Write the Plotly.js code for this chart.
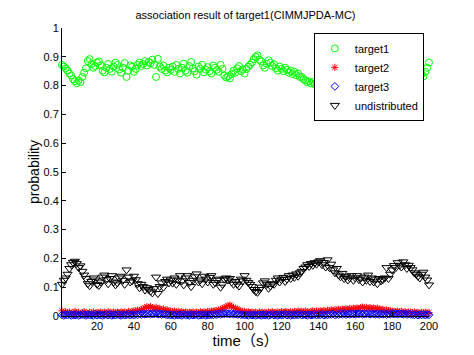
<!DOCTYPE html>
<html>
<head>
<meta charset="utf-8">
<script src="https://cdn.plot.ly/plotly-3.0.1.min.js"></script>
<style>html,body{margin:0;padding:0;background:#fff;}#chart{width:474px;height:355px;}</style>
</head>
<body>
<div id="chart"></div>
<script>
// time steps 1..200
const time = Array.from({length: 200}, (_, i) => i + 1);

const target1 = [
0.872,0.866,0.860,0.852,0.842,0.835,0.822,0.815,0.808,0.818,
0.812,0.830,0.845,0.860,0.885,0.892,0.875,0.862,0.868,0.880,
0.884,0.870,0.852,0.846,0.862,0.875,0.858,0.848,0.866,0.880,
0.872,0.856,0.845,0.862,0.878,0.830,0.852,0.870,0.865,0.848,
0.858,0.872,0.880,0.868,0.875,0.885,0.870,0.882,0.878,0.890,
0.872,0.830,0.893,0.866,0.858,0.870,0.852,0.846,0.862,0.855,
0.866,0.848,0.872,0.858,0.842,0.862,0.876,0.852,0.845,0.868,
0.882,0.860,0.850,0.838,0.866,0.858,0.872,0.846,0.855,0.864,
0.850,0.842,0.870,0.862,0.855,0.848,0.872,0.858,0.835,0.828,
0.832,0.825,0.840,0.852,0.845,0.860,0.868,0.850,0.856,0.842,
0.858,0.866,0.872,0.880,0.892,0.900,0.905,0.890,0.884,0.870,
0.862,0.876,0.888,0.880,0.868,0.874,0.860,0.852,0.866,0.858,
0.850,0.862,0.855,0.845,0.852,0.840,0.848,0.836,0.842,0.830,
0.830,0.822,0.818,0.812,0.815,0.808,0.812,0.805,0.810,0.800,
0.800,0.812,0.805,0.818,0.798,0.822,0.810,0.825,0.832,0.820,
0.835,0.842,0.830,0.846,0.838,0.852,0.842,0.835,0.848,0.840,
0.832,0.846,0.838,0.852,0.836,0.844,0.830,0.848,0.840,0.852,
0.845,0.858,0.842,0.850,0.846,0.838,0.815,0.842,0.830,0.818,
0.805,0.812,0.800,0.808,0.815,0.802,0.810,0.822,0.812,0.818,
0.826,0.832,0.838,0.846,0.852,0.840,0.832,0.848,0.862,0.880
];

const target2 = [
0.018,0.012,0.015,0.010,0.014,0.008,0.012,0.016,0.010,0.013,
0.009,0.012,0.015,0.011,0.008,0.013,0.010,0.014,0.009,0.012,
0.011,0.014,0.010,0.013,0.009,0.015,0.012,0.010,0.014,0.011,
0.013,0.010,0.015,0.012,0.014,0.011,0.016,0.013,0.015,0.018,
0.017,0.020,0.019,0.023,0.025,0.028,0.032,0.030,0.033,0.029,
0.027,0.030,0.025,0.026,0.022,0.024,0.020,0.021,0.018,0.017,
0.015,0.017,0.014,0.016,0.013,0.015,0.012,0.014,0.011,0.013,
0.012,0.014,0.010,0.013,0.011,0.015,0.012,0.014,0.013,0.016,
0.014,0.017,0.016,0.019,0.018,0.021,0.023,0.026,0.028,0.032,
0.035,0.038,0.034,0.030,0.027,0.024,0.020,0.018,0.015,0.016,
0.013,0.015,0.012,0.014,0.011,0.013,0.010,0.014,0.012,0.011,
0.013,0.010,0.014,0.012,0.015,0.011,0.013,0.014,0.012,0.015,
0.013,0.016,0.014,0.012,0.015,0.013,0.016,0.014,0.017,0.015,
0.016,0.014,0.017,0.015,0.013,0.016,0.018,0.015,0.017,0.016,
0.018,0.017,0.019,0.016,0.020,0.018,0.021,0.019,0.022,0.020,
0.023,0.021,0.024,0.022,0.025,0.023,0.026,0.024,0.027,0.025,
0.028,0.026,0.029,0.031,0.028,0.030,0.027,0.029,0.026,0.028,
0.025,0.027,0.024,0.022,0.023,0.020,0.021,0.019,0.018,0.017,
0.016,0.015,0.017,0.014,0.016,0.013,0.015,0.012,0.014,0.013,
0.012,0.014,0.011,0.013,0.010,0.012,0.011,0.013,0.010,0.012
];

const target3 = [
0.004,0.002,0.005,0.003,0.006,0.002,0.004,0.003,0.005,0.002,0.003,0.006,0.004,0.002,0.005,0.003,0.004,0.002,0.006,0.003,
0.005,0.003,0.002,0.004,0.006,0.003,0.005,0.002,0.004,0.003,0.006,0.004,0.002,0.005,0.003,0.004,0.006,0.003,0.005,0.004,
0.006,0.004,0.007,0.005,0.008,0.006,0.007,0.009,0.006,0.008,0.007,0.009,0.006,0.008,0.005,0.007,0.006,0.004,0.005,0.003,
0.004,0.002,0.005,0.003,0.004,0.002,0.006,0.003,0.004,0.002,0.005,0.003,0.004,0.006,0.002,0.004,0.003,0.005,0.002,0.004,
0.003,0.005,0.004,0.006,0.005,0.007,0.006,0.008,0.007,0.009,0.008,0.007,0.009,0.006,0.007,0.005,0.006,0.004,0.005,0.003,
0.004,0.002,0.005,0.003,0.004,0.002,0.003,0.005,0.002,0.004,0.003,0.005,0.002,0.004,0.006,0.003,0.004,0.002,0.005,0.003,
0.004,0.006,0.003,0.005,0.002,0.004,0.003,0.005,0.004,0.006,0.003,0.005,0.004,0.002,0.005,0.003,0.004,0.006,0.003,0.005,
0.004,0.006,0.003,0.005,0.004,0.006,0.005,0.007,0.004,0.006,0.005,0.007,0.006,0.008,0.005,0.007,0.006,0.008,0.007,0.006,
0.008,0.007,0.009,0.006,0.008,0.007,0.009,0.006,0.008,0.007,0.006,0.008,0.005,0.007,0.006,0.008,0.005,0.007,0.006,0.009,
0.007,0.008,0.006,0.009,0.007,0.006,0.008,0.005,0.007,0.006,0.005,0.004,0.006,0.003,0.005,0.004,0.006,0.003,0.005,0.004
];

const undistributed = [
0.110,0.124,0.132,0.145,0.165,0.178,0.186,0.190,0.182,0.168,
0.174,0.155,0.142,0.130,0.112,0.105,0.120,0.132,0.125,0.110,
0.106,0.118,0.135,0.142,0.126,0.112,0.130,0.140,0.118,0.108,
0.115,0.132,0.138,0.124,0.110,0.160,0.135,0.118,0.122,0.138,
0.126,0.112,0.098,0.110,0.102,0.090,0.098,0.092,0.086,0.080,
0.095,0.135,0.078,0.102,0.115,0.100,0.120,0.128,0.115,0.125,
0.114,0.132,0.110,0.125,0.140,0.122,0.108,0.132,0.140,0.116,
0.102,0.124,0.136,0.146,0.118,0.125,0.112,0.138,0.128,0.118,
0.134,0.140,0.110,0.116,0.124,0.128,0.100,0.110,0.128,0.132,
0.125,0.130,0.118,0.110,0.120,0.110,0.104,0.128,0.122,0.140,
0.124,0.116,0.110,0.102,0.092,0.085,0.082,0.092,0.100,0.115,
0.122,0.110,0.096,0.104,0.112,0.110,0.124,0.132,0.118,0.126,
0.134,0.120,0.128,0.140,0.130,0.142,0.134,0.146,0.138,0.150,
0.155,0.165,0.170,0.178,0.172,0.182,0.176,0.185,0.180,0.188,
0.192,0.178,0.186,0.170,0.195,0.168,0.180,0.160,0.150,0.165,
0.142,0.136,0.148,0.130,0.138,0.125,0.132,0.140,0.124,0.132,
0.140,0.126,0.132,0.118,0.135,0.124,0.142,0.120,0.132,0.118,
0.128,0.112,0.130,0.122,0.126,0.132,0.168,0.130,0.145,0.160,
0.175,0.168,0.185,0.176,0.170,0.188,0.178,0.165,0.176,0.168,
0.160,0.150,0.145,0.138,0.132,0.145,0.152,0.135,0.125,0.108
];

const xTicks = [20,40,60,80,100,120,140,160,180,200];
const yTicks = [0,0.1,0.2,0.3,0.4,0.5,0.6,0.7,0.8,0.9,1];
const yTickText = ['0','0.1','0.2','0.3','0.4','0.5','0.6','0.7','0.8','0.9','1'];

const font = 'Arial, "Liberation Sans", sans-serif';

const traces = [
  {x: time, y: target1, name: 'target1', type: 'scatter', mode: 'markers', cliponaxis: false,
   marker: {symbol: 'circle-open', size: 7, color: '#00ff00', line: {width: 1, color: '#00ff00'}}},
  {x: time, y: target2, name: 'target2', type: 'scatter', mode: 'markers', cliponaxis: false,
   marker: {symbol: 'asterisk-open', size: 6, color: '#ff0000', line: {width: 1, color: '#ff0000'}}},
  {x: time, y: target3, name: 'target3', type: 'scatter', mode: 'markers', cliponaxis: false,
   marker: {symbol: 'diamond-open', size: 6, color: '#0000ff', line: {width: 1, color: '#0000ff'}}},
  {x: time, y: undistributed, name: 'undistributed', type: 'scatter', mode: 'markers', cliponaxis: false,
   marker: {symbol: 'triangle-down-open', size: 8, color: '#000000', line: {width: 1, color: '#000000'}}}
];

const layout = {
  width: 474, height: 355,
  margin: {l: 62, r: 45, t: 28, b: 39, pad: 0},
  paper_bgcolor: '#ffffff', plot_bgcolor: '#ffffff',
  font: {family: font, size: 11, color: '#000'},
  showlegend: true,
  title: {text: 'association result of target1(CIMMJPDA-MC)', font: {family: font, size: 11, color: '#000'},
          x: 0.5, xref: 'paper', xanchor: 'center', y: 0.958, yref: 'container', yanchor: 'middle'},
  xaxis: {range: [1, 200], tickmode: 'array', tickvals: xTicks, ticks: 'inside', ticklen: 4, tickcolor: '#000',
          showline: true, linecolor: '#000', linewidth: 1, mirror: false, showgrid: false, zeroline: false,
          tickfont: {family: font, size: 11, color: '#000'},
          title: {text: 'time（s）', font: {family: 'Arial, "Liberation Sans", "Noto Sans CJK SC", sans-serif', size: 15, color: '#000'}, standoff: 4}},
  yaxis: {range: [0, 1], tickmode: 'array', tickvals: yTicks, ticktext: yTickText, ticks: 'inside', ticklen: 4, tickcolor: '#000',
          showline: true, linecolor: '#000', linewidth: 1, mirror: false, showgrid: false, zeroline: false,
          tickfont: {family: font, size: 11, color: '#000'},
          title: {text: 'probability', font: {family: font, size: 14, color: '#000'}, standoff: 0}},
  legend: {x: 0.986, xanchor: 'right', y: 0.983, yanchor: 'top', bgcolor: '#ffffff', bordercolor: '#000', borderwidth: 1,
           font: {family: font, size: 11, color: '#000'}, tracegroupgap: 0}
};

Plotly.newPlot('chart', traces, layout, {displayModeBar: false, staticPlot: true});
</script>
</body>
</html>
